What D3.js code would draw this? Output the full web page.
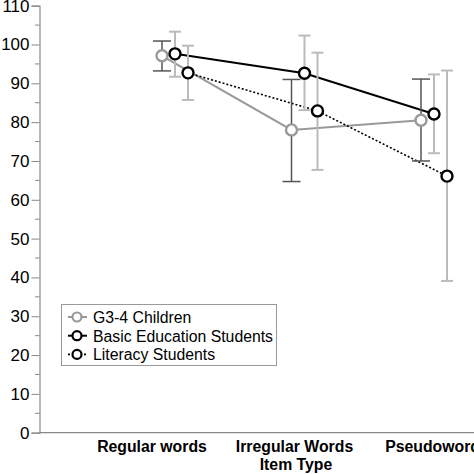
<!DOCTYPE html>
<html>
<head>
<meta charset="utf-8">
<script src="https://cdn.jsdelivr.net/npm/d3@7"></script>
<style>
  body { margin: 0; background: #fff; }
  svg { font-family: "Liberation Sans", Arial, sans-serif; }
</style>
</head>
<body>
<script>
// categories and series
const categories = ["Regular words", "Irregular Words", "Pseudowords"];
const seriesNames = ["G3-4 Children", "Basic Education Students", "Literacy Students"];

// means and error bar ends
const g34Mean = [97.1, 78.0, 80.5];
const g34Lo = [93.2, 64.7, 70.0];
const g34Hi = [100.9, 91.0, 91.1];

const basicMean = [97.6, 92.6, 82.1];
const basicLo = [91.7, 83.1, 72.0];
const basicHi = [103.3, 102.3, 92.3];

const litMean = [92.7, 82.9, 66.1];
const litLo = [85.7, 67.7, 39.1];
const litHi = [99.7, 97.9, 93.3];

const yTicks = [0, 10, 20, 30, 40, 50, 60, 70, 80, 90, 100, 110];

const width = 474, height = 474;

const svg = d3.select("body").append("svg")
    .attr("width", width)
    .attr("height", height);

const y = d3.scaleLinear().domain([0, 110]).range([432.7, 5.7]);
const xGroup = d3.scalePoint().domain(categories).range([175, 434]);
const xDodge = d3.scalePoint().domain(seriesNames).range([-13, 13]);
const xLabel = d3.scalePoint().domain(categories).range([152, 437]);

const styles = [
    { line: "#999", dash: null, lw: 2, marker: "#999", err: "#555", errW: 1.5, cap: 9 },
    { line: "#000", dash: null, lw: 2, marker: "#000", err: "#bbb", errW: 2, cap: 6 },
    { line: "#000", dash: "2,2", lw: 1.6, marker: "#000", err: "#bbb", errW: 2, cap: 6 }
];

const series = [
    { name: seriesNames[0], mean: g34Mean, lo: g34Lo, hi: g34Hi },
    { name: seriesNames[1], mean: basicMean, lo: basicLo, hi: basicHi },
    { name: seriesNames[2], mean: litMean, lo: litLo, hi: litHi }
];

// Y axis
const yAxis = svg.append("g")
    .attr("transform", "translate(39.5,0)")
    .call(d3.axisLeft(y).tickValues(yTicks).tickSize(8).tickPadding(2).tickFormat(d3.format("d")));
yAxis.select(".domain").attr("stroke", "#888").attr("stroke-width", 1.2);
yAxis.selectAll(".tick line").attr("stroke", "#888");
yAxis.selectAll(".tick text")
    .attr("font-size", 17)
    .attr("fill", "#000")
    .attr("font-family", "Liberation Sans, Arial, sans-serif");

// minor ticks
const minor = d3.range(5, 110, 10);
svg.append("g").selectAll("line")
    .data(minor)
    .enter().append("line")
    .attr("x1", 35).attr("x2", 39.5)
    .attr("y1", d => y(d)).attr("y2", d => y(d))
    .attr("stroke", "#888");

// X axis line
svg.append("line")
    .attr("x1", 39.5).attr("x2", width)
    .attr("y1", y(0)).attr("y2", y(0))
    .attr("stroke", "#888").attr("stroke-width", 1.2);

// category labels
svg.append("g").selectAll("text")
    .data(categories)
    .enter().append("text")
    .attr("x", d => xLabel(d))
    .attr("y", 452)
    .attr("text-anchor", "middle")
    .attr("font-size", 15.8)
    .attr("font-weight", "bold")
    .text(d => d);

// axis title
svg.append("text")
    .attr("x", 296)
    .attr("y", 470)
    .attr("text-anchor", "middle")
    .attr("font-size", 15.8)
    .attr("font-weight", "bold")
    .text("Item Type");

const px = (s, i) => xGroup(categories[i]) + xDodge(s.name);

// lines
const lineGen = d3.line()
    .x(d => d.x)
    .y(d => y(d.v));

series.forEach((s, si) => {
    const pts = s.mean.map((v, i) => ({ x: px(s, i), v: v }));
    svg.append("path")
        .datum(pts)
        .attr("d", lineGen)
        .attr("fill", "none")
        .attr("stroke", styles[si].line)
        .attr("stroke-width", styles[si].lw)
        .attr("stroke-dasharray", styles[si].dash);
});

// error bars
series.forEach((s, si) => {
    const st = styles[si];
    const g = svg.append("g")
        .attr("stroke", st.err)
        .attr("stroke-width", st.errW);
    s.mean.forEach((v, i) => {
        const x = px(s, i);
        g.append("line").attr("x1", x).attr("x2", x).attr("y1", y(s.lo[i])).attr("y2", y(s.hi[i]));
        g.append("line").attr("x1", x - st.cap).attr("x2", x + st.cap).attr("y1", y(s.lo[i])).attr("y2", y(s.lo[i]));
        g.append("line").attr("x1", x - st.cap).attr("x2", x + st.cap).attr("y1", y(s.hi[i])).attr("y2", y(s.hi[i]));
    });
});

// markers
series.forEach((s, si) => {
    svg.append("g").selectAll("circle")
        .data(s.mean)
        .enter().append("circle")
        .attr("cx", (d, i) => px(s, i))
        .attr("cy", d => y(d))
        .attr("r", 5.5)
        .attr("fill", "#fff")
        .attr("stroke", styles[si].marker)
        .attr("stroke-width", 2.4);
});

// legend
const legend = svg.append("g");
legend.append("rect")
    .attr("x", 61.5).attr("y", 304.5)
    .attr("width", 215).attr("height", 61)
    .attr("fill", "#fff")
    .attr("stroke", "#999")
    .attr("stroke-width", 1);

seriesNames.forEach((name, i) => {
    const ly = 317 + i * 18.7;
    const st = styles[i];
    legend.append("line")
        .attr("x1", 68).attr("x2", 87)
        .attr("y1", ly).attr("y2", ly)
        .attr("stroke", st.line)
        .attr("stroke-width", st.lw)
        .attr("stroke-dasharray", st.dash);
    legend.append("circle")
        .attr("cx", 77).attr("cy", ly).attr("r", 4.5)
        .attr("fill", "#fff")
        .attr("stroke", st.marker)
        .attr("stroke-width", 2.2);
    legend.append("text")
        .attr("x", 93).attr("y", ly + 5.8)
        .attr("font-size", 15.8)
        .attr("fill", "#000")
        .text(name);
});
</script>
</body>
</html>
